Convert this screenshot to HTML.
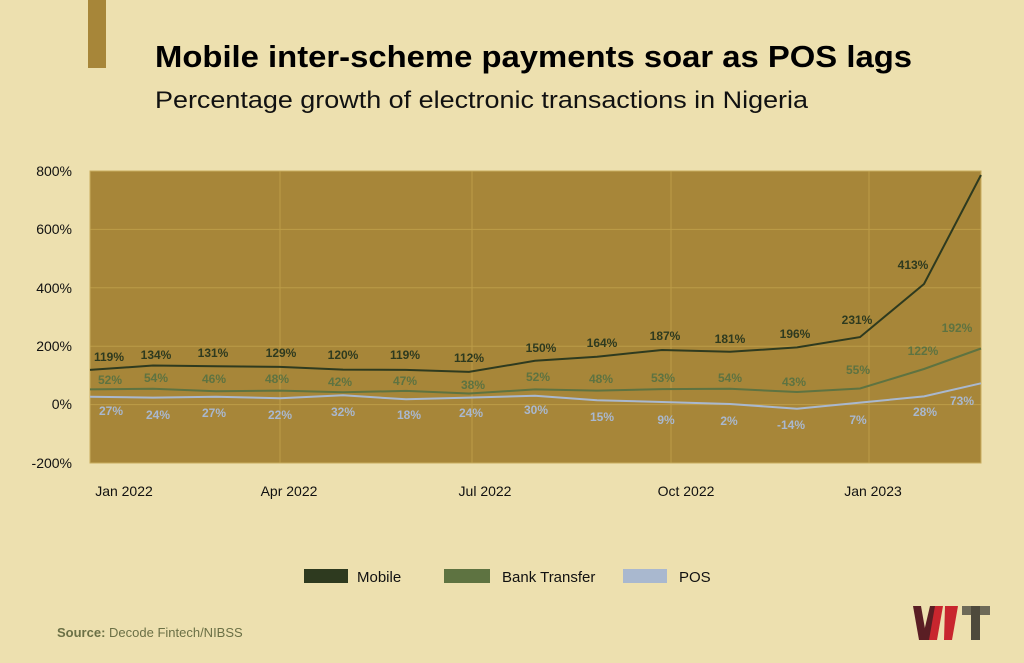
<!DOCTYPE html>
<html><head><meta charset="utf-8"><style>
html,body{margin:0;padding:0;background:#EDE0AF;}
svg{display:block;font-family:"Liberation Sans",sans-serif;}
</style></head><body>
<svg width="1024" height="663" viewBox="0 0 1024 663" xmlns="http://www.w3.org/2000/svg">
<rect width="1024" height="663" fill="#EDE0AF"/>
<rect x="88" y="0" width="18" height="68" fill="#A78639"/>
<text x="155" y="67" font-size="31" font-weight="bold" fill="#000" textLength="757" lengthAdjust="spacingAndGlyphs">Mobile inter-scheme payments soar as POS lags</text>
<text x="155" y="108" font-size="24" fill="#111" textLength="653" lengthAdjust="spacingAndGlyphs">Percentage growth of electronic transactions in Nigeria</text>
<rect x="90" y="171" width="891" height="292" fill="#A78639"/>
<g stroke="#BC9C48" stroke-width="1">
<line x1="90" y1="171" x2="981" y2="171"/><line x1="90" y1="229.4" x2="981" y2="229.4"/>
<line x1="90" y1="287.8" x2="981" y2="287.8"/><line x1="90" y1="346.2" x2="981" y2="346.2"/>
<line x1="90" y1="404.6" x2="981" y2="404.6"/>
<line x1="280" y1="171" x2="280" y2="463"/><line x1="472" y1="171" x2="472" y2="463"/>
<line x1="671" y1="171" x2="671" y2="463"/><line x1="869" y1="171" x2="869" y2="463"/>
</g>
<rect x="90" y="171" width="891" height="292" fill="none" stroke="#C9AD5E" stroke-width="1"/>
<g font-size="14" fill="#111" text-anchor="end">
<text x="72" y="176">800%</text><text x="72" y="234">600%</text><text x="72" y="293">400%</text>
<text x="72" y="351">200%</text><text x="72" y="409">0%</text><text x="72" y="468">-200%</text>
</g>
<g font-size="14" fill="#111" text-anchor="middle">
<text x="124" y="496">Jan 2022</text><text x="289" y="496">Apr 2022</text><text x="485" y="496">Jul 2022</text>
<text x="686" y="496">Oct 2022</text><text x="873" y="496">Jan 2023</text>
</g>
<polyline fill="none" stroke="#A9B8CF" stroke-width="2" points="90,396.7 153,397.6 216,396.7 280,398.2 343,395.3 406,399.3 469,397.6 535,395.8 597,400.2 662,402 730,404 797,408.7 860,402.6 924,396.4 981,383.3"/>
<polyline fill="none" stroke="#5E7341" stroke-width="2" points="90,389.4 153,388.8 216,391.2 280,390.6 343,392.3 406,390.9 469,393.5 535,389.4 597,390.6 662,389.1 730,388.8 797,392 860,388.5 924,369 981,348.5"/>
<polyline fill="none" stroke="#2E3A1F" stroke-width="2" points="90,369.9 153,365.5 216,366.3 280,366.9 343,369.6 406,369.9 469,371.9 535,360.8 597,356.7 662,350 730,351.8 797,347.4 860,337.1 924,284 981,175"/>
<g font-size="12" font-weight="bold" fill="#2E3A1F" text-anchor="middle">
<text x="109" y="361">119%</text><text x="156" y="359">134%</text><text x="213" y="357">131%</text><text x="281" y="357">129%</text><text x="343" y="359">120%</text><text x="405" y="359">119%</text><text x="469" y="362">112%</text><text x="541" y="352">150%</text><text x="602" y="347">164%</text><text x="665" y="340">187%</text><text x="730" y="343">181%</text><text x="795" y="338">196%</text><text x="857" y="324">231%</text><text x="913" y="269">413%</text>
</g>
<g font-size="12" font-weight="bold" fill="#5E7341" text-anchor="middle">
<text x="110" y="384">52%</text><text x="156" y="382">54%</text><text x="214" y="383">46%</text><text x="277" y="383">48%</text><text x="340" y="386">42%</text><text x="405" y="385">47%</text><text x="473" y="389">38%</text><text x="538" y="381">52%</text><text x="601" y="383">48%</text><text x="663" y="382">53%</text><text x="730" y="382">54%</text><text x="794" y="386">43%</text><text x="858" y="374">55%</text><text x="923" y="355">122%</text><text x="957" y="332">192%</text>
</g>
<g font-size="12" font-weight="bold" fill="#A9B8CF" text-anchor="middle">
<text x="111" y="415">27%</text><text x="158" y="419">24%</text><text x="214" y="417">27%</text><text x="280" y="419">22%</text><text x="343" y="416">32%</text><text x="409" y="419">18%</text><text x="471" y="417">24%</text><text x="536" y="414">30%</text><text x="602" y="421">15%</text><text x="666" y="424">9%</text><text x="729" y="425">2%</text><text x="791" y="429">-14%</text><text x="858" y="424">7%</text><text x="925" y="416">28%</text><text x="962" y="405">73%</text>
</g>
<rect x="304" y="569" width="44" height="14" fill="#2E3A1F"/>
<text x="357" y="582" font-size="15" fill="#111">Mobile</text>
<rect x="444" y="569" width="46" height="14" fill="#5E7341"/>
<text x="502" y="582" font-size="15" fill="#111">Bank Transfer</text>
<rect x="623" y="569" width="44" height="14" fill="#A9B8CF"/>
<text x="679" y="582" font-size="15" fill="#111">POS</text>
<text x="57" y="637" font-size="13" fill="#6B7046"><tspan font-weight="bold">Source:</tspan> Decode Fintech/NIBSS</text>
<polygon points="913,606 921,606 927,640 919,640" fill="#5A1E24"/>
<polygon points="922,640 930,606 936,606 930,640" fill="#5A1E24"/>
<polygon points="929,640 935,606 943,606 937,640" fill="#C8262E"/>
<polygon points="945,606 958,606 952,640 944,640" fill="#C8262E"/>
<rect x="962" y="606" width="28" height="9" fill="#6E6A58"/>
<rect x="971" y="606" width="9" height="34" fill="#4E4A3C"/>
</svg>
</body></html>
